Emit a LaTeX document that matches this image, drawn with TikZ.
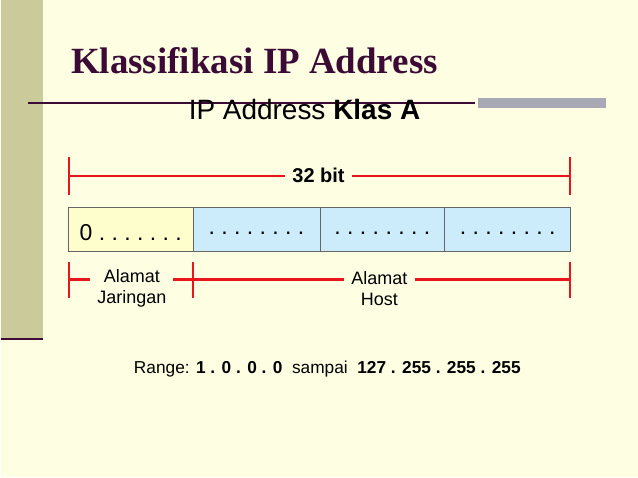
\documentclass[tikz,border=0pt]{standalone}
\usepackage{fontspec}
\setmainfont{Liberation Sans}
\newfontfamily\titlefont{Liberation Serif}
\definecolor{bg}{HTML}{FEFEE2}
\definecolor{strip}{HTML}{CBCA9B}
\definecolor{ttl}{HTML}{3B0A35}
\definecolor{grayb}{HTML}{A9A9B5}
\definecolor{cellA}{HTML}{FEFECC}
\definecolor{cellB}{HTML}{CCEBFB}
\definecolor{redl}{HTML}{E8151B}
\tikzset{
  cell/.style={draw=black!60,line width=0.8pt,minimum height=44pt,inner sep=0pt,anchor=north west},
  rl/.style={draw=redl,line width=2.2pt},
  lbl/.style={fill=bg,inner xsep=7pt,inner ysep=3pt,font=\fontsize{18}{21}\selectfont,align=center}
}
\begin{document}
\begin{tikzpicture}[x=1pt,y=-1pt]
\fill[bg] (0,0) rectangle (638,478);
\fill[strip] (0,0) rectangle (42,340);
\draw[ttl,line width=2pt] (0,340) -- (42,340);
\node[anchor=base west,text=ttl,inner sep=0pt,font=\titlefont\bfseries\fontsize{37}{40}\selectfont] (title) at (70,74) {Klassifikasi IP Address};
\draw[ttl,line width=1.5pt] (27,103) -- (475,103);
\fill[grayb] (478,98) rectangle (606,108);
\node[inner sep=0pt,font=\fontsize{28}{30}\selectfont] (sub) at (304,110) {IP Address \textbf{Klas A}};
% top bracket
\coordinate (tl) at (68,176); \coordinate (tr) at (570,176);
\draw[rl] (68,157) -- (68,195); \draw[rl] (570,157) -- (570,195);
\node[lbl,font=\bfseries\fontsize{20}{22}\selectfont] (b32) at (318,176) {32 bit};
\draw[rl] (tl) -- (b32.west); \draw[rl] (b32.east) -- (tr);
% cells
\node[cell,fill=cellA,minimum width=125pt] (c1) at (67,207) {};
\node[cell,fill=cellB,minimum width=127pt] (c2) at (192,207) {};
\node[cell,fill=cellB,minimum width=125pt] (c3) at (319,207) {};
\node[cell,fill=cellB,minimum width=126pt] (c4) at (444,207) {};
\foreach \c/\t in {c1/{0\ .\ .\ .\ .\ .\ .\ .},c2/{.\ .\ .\ .\ .\ .\ .\ .},c3/{.\ .\ .\ .\ .\ .\ .\ .},c4/{.\ .\ .\ .\ .\ .\ .\ .}}
  \node[font=\fontsize{23}{25}\selectfont] at ([yshift=-4pt]\c.center) {\t};
% lower brackets
\draw[rl] (68,262) -- (68,298); \draw[rl] (192,262) -- (192,298); \draw[rl] (570,262) -- (570,298);
\coordinate (l1) at (68,280); \coordinate (l2) at (192,280); \coordinate (l3) at (570,280);
\node[lbl] (jar) at (131,289) {Alamat\\Jaringan};
\node[lbl] (host) at (379,289) {Alamat\\Host};
\draw[rl] (l1) -- (jar.west |- l1); \draw[rl] (jar.east |- l1) -- (l2);
\draw[rl] (l2) -- (host.west |- l2); \draw[rl] (host.east |- l2) -- (l3);
\node[anchor=west,inner sep=0pt,font=\fontsize{17.3}{19}\selectfont] (range) at (133,370) {Range: \textbf{1 . 0 . 0 . 0}\ \ sampai\ \ \textbf{127 . 255 . 255 . 255}};
\end{tikzpicture}
\end{document}
